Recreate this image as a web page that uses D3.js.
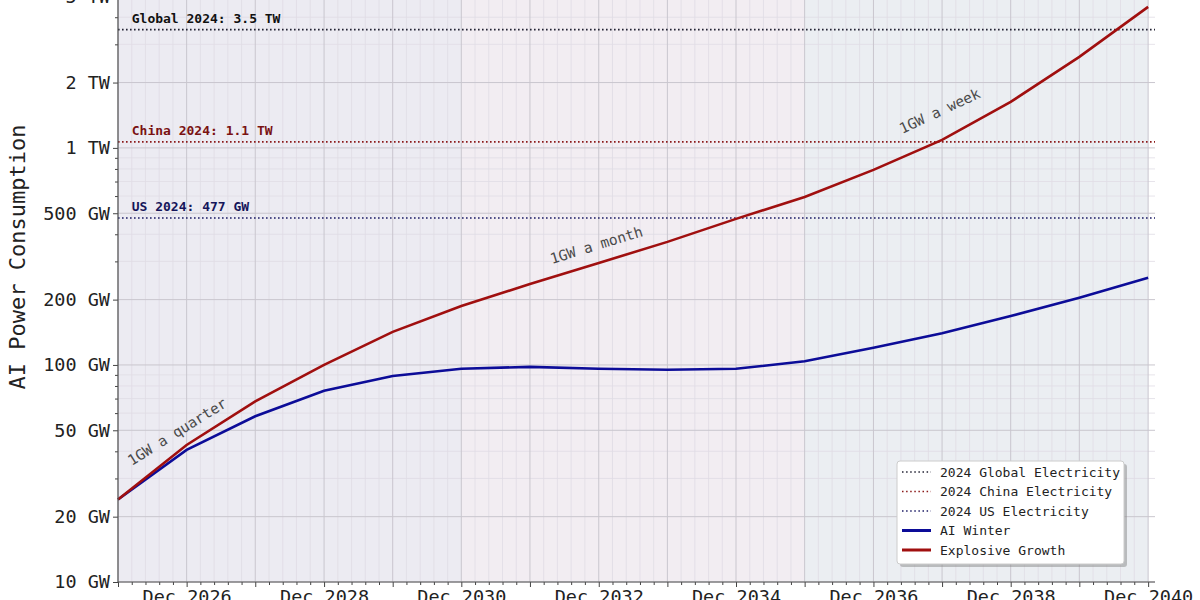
<!DOCTYPE html>
<html>
<head>
<meta charset="utf-8">
<script src="https://cdn.jsdelivr.net/npm/d3@7"></script>
<style>
  body { margin: 0; background: #fff; }
  svg { display: block; font-family: "DejaVu Sans Mono", monospace; }
</style>
</head>
<body>
<div id="chart"></div>
<script>
// one point per December, 2025..2040 (GW)
var years = d3.range(2025, 2041);
var explosiveGrowth = [24, 42.8, 68, 100, 142, 187, 236, 295, 369, 471, 594, 792, 1089, 1629, 2626, 4466];
var aiWinter = [24, 40.6, 58, 76, 89, 96, 98, 96, 95, 96, 104, 120, 140, 168, 204, 252];

// 2024 electricity reference levels (GW)
var refValues = [3508, 1066, 475];
var refLabels = ["Global 2024: 3.5 TW", "China 2024: 1.1 TW", "US 2024: 477 GW"];
var refLegend = ["2024 Global Electricity", "2024 China Electricity", "2024 US Electricity"];
var refColors = ["#222233", "#8b1a1a", "#1c1c66"];
var refLabelColors = ["#111111", "#7a1212", "#15155a"];

var yTickValues = [10, 20, 50, 100, 200, 500, 1000, 2000, 5000];
var yTickLabels = ["10 GW", "20 GW", "50 GW", "100 GW", "200 GW", "500 GW", "1 TW", "2 TW", "5 TW"];
var yMinorValues = [30, 40, 60, 70, 80, 90, 300, 400, 600, 700, 800, 900, 3000, 4000];

var bandStarts = [2025, 2030, 2035];
var bandEnds = [2030, 2035, 2040];
var bandColors = ["#ecebf2", "#f2edf2", "#ebeef2"];

var noteTexts = ["1GW a quarter", "1GW a month", "1GW a week"];
var noteYears = [2025.2, 2031.32, 2036.42];
var noteValues = [34.2, 292, 1160];
var noteAngles = [-32, -17, -25];

var margin = {top: -21, left: 118},
    width = 1037,
    height = 603;

var yearMs = 365.25 * 24 * 3600 * 1000;
function dec(y) {
  var base = Math.floor(y);
  return new Date(Date.UTC(base, 11, 1) + (y - base) * yearMs);
}

var x = d3.scaleUtc().domain([dec(2025), dec(2040.1)]).range([0, width]);
var y = d3.scaleLog().domain([10, 6000]).range([height, 0]);

var svg = d3.select("#chart").append("svg")
    .attr("width", 1200)
    .attr("height", 600);

var g = svg.append("g")
    .attr("transform", "translate(" + margin.left + "," + margin.top + ")");

// background periods
g.selectAll(".band")
  .data(bandStarts)
  .enter().append("rect")
    .attr("x", function(d) { return x(dec(d)); })
    .attr("y", 0)
    .attr("width", function(d, i) { return x(dec(bandEnds[i])) - x(dec(d)); })
    .attr("height", height)
    .style("fill", function(d, i) { return bandColors[i]; });

// grid
var xMinor = [];
years.forEach(function(yr) {
  for (var k = 1; k < 5; k++) if (yr + k * 0.2 <= 2040.1) xMinor.push(dec(yr + k * 0.2));
});
var xMajor = years.map(function(yr) { return dec(yr); });

g.append("g").selectAll("line")
  .data(xMinor)
  .enter().append("line")
    .attr("x1", function(d) { return x(d); })
    .attr("x2", function(d) { return x(d); })
    .attr("y1", 0).attr("y2", height)
    .style("stroke", "#dfdce4").style("stroke-width", 0.8);

g.append("g").selectAll("line")
  .data(yMinorValues)
  .enter().append("line")
    .attr("x1", 0).attr("x2", width)
    .attr("y1", function(d) { return y(d); })
    .attr("y2", function(d) { return y(d); })
    .style("stroke", "#dfdce4").style("stroke-width", 0.8);

g.append("g").selectAll("line")
  .data(xMajor)
  .enter().append("line")
    .attr("x1", function(d) { return x(d); })
    .attr("x2", function(d) { return x(d); })
    .attr("y1", 0).attr("y2", height)
    .style("stroke", "#c9c6ce").style("stroke-width", 1);

g.append("g").selectAll("line")
  .data(yTickValues)
  .enter().append("line")
    .attr("x1", 0).attr("x2", width)
    .attr("y1", function(d) { return y(d); })
    .attr("y2", function(d) { return y(d); })
    .style("stroke", "#c9c6ce").style("stroke-width", 1);

// reference lines
g.selectAll(".ref")
  .data(refValues)
  .enter().append("line")
    .attr("x1", 0).attr("x2", width)
    .attr("y1", function(d) { return y(d); })
    .attr("y2", function(d) { return y(d); })
    .style("stroke", function(d, i) { return refColors[i]; })
    .style("stroke-width", 1.6)
    .style("stroke-dasharray", "1.6,2.4");

g.selectAll(".ref-label")
  .data(refValues)
  .enter().append("text")
    .attr("x", x(dec(2025.2)))
    .attr("y", function(d) { return y(d) - 7; })
    .style("font-size", "13px")
    .style("font-weight", "bold")
    .style("fill", function(d, i) { return refLabelColors[i]; })
    .text(function(d, i) { return refLabels[i]; });

// series
var line = d3.line()
    .x(function(d, i) { return x(dec(years[i])); })
    .y(function(d) { return y(d); });

g.append("path")
    .datum(aiWinter)
    .attr("d", line)
    .style("fill", "none")
    .style("stroke", "#0c0c98")
    .style("stroke-width", 2.6);

g.append("path")
    .datum(explosiveGrowth)
    .attr("d", line)
    .style("fill", "none")
    .style("stroke", "#a00f0f")
    .style("stroke-width", 2.6);

// annotations
g.selectAll(".note")
  .data(noteTexts)
  .enter().append("text")
    .attr("transform", function(d, i) {
      return "translate(" + x(dec(noteYears[i])) + "," + y(noteValues[i]) + ") rotate(" + noteAngles[i] + ")";
    })
    .style("font-size", "14.5px")
    .style("fill", "#4a4a4a")
    .text(function(d) { return d; });

// axes
var xAxis = g.append("g")
    .attr("transform", "translate(0," + height + ")")
    .call(d3.axisBottom(x)
      .tickValues(xMajor)
      .tickSize(5)
      .tickFormat(function(d) { var yr = d.getUTCFullYear(); return yr % 2 === 0 ? "Dec " + yr : ""; }));
xAxis.select(".domain").remove();
xAxis.selectAll("text").style("font-size", "18.5px").style("fill", "#222").style("font-family", "DejaVu Sans Mono");
xAxis.selectAll("line").style("stroke", "#444");

var xMinorAxis = g.append("g")
    .attr("transform", "translate(0," + height + ")")
    .call(d3.axisBottom(x).tickValues(xMinor).tickSize(3).tickFormat(""));
xMinorAxis.select(".domain").remove();
xMinorAxis.selectAll("line").style("stroke", "#444");

var yAxis = g.append("g")
    .call(d3.axisLeft(y)
      .tickValues(yTickValues)
      .tickSize(5)
      .tickFormat(function(d, i) { return yTickLabels[i]; }));
yAxis.select(".domain").remove();
yAxis.selectAll("text").style("font-size", "18.5px").style("fill", "#222").style("font-family", "DejaVu Sans Mono");
yAxis.selectAll("line").style("stroke", "#444");

var yMinorAxis = g.append("g")
    .call(d3.axisLeft(y).tickValues(yMinorValues).tickSize(3).tickFormat(""));
yMinorAxis.select(".domain").remove();
yMinorAxis.selectAll("line").style("stroke", "#444");

// spines (left and bottom)
g.append("line")
    .attr("x1", 0).attr("x2", 0).attr("y1", 0).attr("y2", height)
    .style("stroke", "#555").style("stroke-width", 1.2);
g.append("line")
    .attr("x1", 0).attr("x2", width).attr("y1", height).attr("y2", height)
    .style("stroke", "#555").style("stroke-width", 1.2);

svg.append("text")
    .attr("transform", "translate(25,257) rotate(-90)")
    .attr("text-anchor", "middle")
    .style("font-size", "22px")
    .style("fill", "#222")
    .text("AI Power Consumption");

// legend
var legendNames = refLegend.concat(["AI Winter", "Explosive Growth"]);
var legendColors = refColors.concat(["#0c0c98", "#a00f0f"]);
var legend = svg.append("g").attr("transform", "translate(897,461)");

legend.append("rect")
    .attr("x", 3).attr("y", 3).attr("width", 227).attr("height", 103).attr("rx", 3)
    .style("fill", "#888").style("opacity", 0.5);
legend.append("rect")
    .attr("width", 227).attr("height", 103).attr("rx", 3)
    .style("fill", "#fff").style("stroke", "#cccccc");

var item = legend.selectAll(".legend-item")
  .data(legendNames)
  .enter().append("g")
    .attr("transform", function(d, i) { return "translate(0," + (11 + i * 19.5) + ")"; });

item.append("line")
    .attr("x1", 5).attr("x2", 34)
    .style("stroke", function(d, i) { return legendColors[i]; })
    .style("stroke-width", function(d, i) { return i < 3 ? 1.5 : 3; })
    .style("stroke-dasharray", function(d, i) { return i < 3 ? "1.5,2.6" : null; });

item.append("text")
    .attr("x", 43)
    .attr("dy", "0.35em")
    .style("font-size", "13px")
    .style("fill", "#222")
    .text(function(d) { return d; });
</script>
</body>
</html>
